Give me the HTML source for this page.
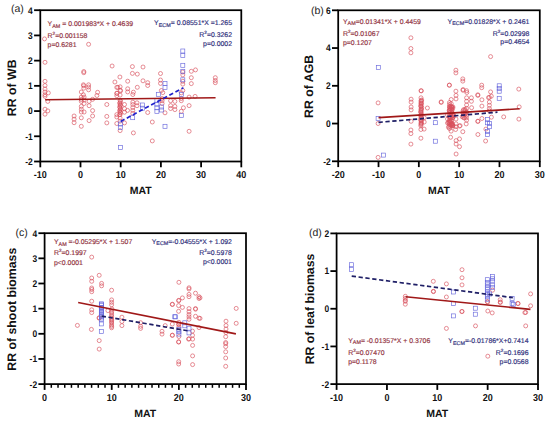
<!DOCTYPE html>
<html><head><meta charset="utf-8"><style>
html,body{margin:0;padding:0;background:#fff;}
svg{display:block;}
text{font-family:"Liberation Sans",sans-serif;text-rendering:geometricPrecision;}
.tkx{font-size:10px;font-weight:bold;fill:#111;}
.tky{font-size:9.6px;font-weight:bold;fill:#111;}
.yl{font-size:12.3px;font-weight:bold;fill:#111;}
.xl{font-size:10.5px;font-weight:bold;fill:#111;}
.pl{font-size:10.5px;fill:#222;}
.ann{font-size:6.9px;stroke-width:0.18px;paint-order:stroke;}
.ax{stroke:#000;stroke-width:1.8;}
.axm{stroke:#000;stroke-width:1.5;}
</style></head><body>
<svg width="550" height="422" viewBox="0 0 550 422">
<rect width="550" height="422" fill="#fff"/>
<g fill="none" stroke="#d9505c" stroke-width="0.65"><circle cx="44.5" cy="38.9" r="2.0"/><circle cx="45" cy="62.3" r="2.0"/><circle cx="45" cy="81.3" r="2.0"/><circle cx="45" cy="85.5" r="2.0"/><circle cx="45" cy="89" r="2.0"/><circle cx="45" cy="92" r="2.0"/><circle cx="45" cy="94.8" r="2.0"/><circle cx="48.3" cy="92.9" r="2.0"/><circle cx="45" cy="96.4" r="2.0"/><circle cx="47.8" cy="101.4" r="2.0"/><circle cx="45" cy="109.2" r="2.0"/><circle cx="47.8" cy="110.9" r="2.0"/><circle cx="45" cy="114.2" r="2.0"/><circle cx="74.1" cy="116" r="2.0"/><circle cx="74.1" cy="119.2" r="2.0"/><circle cx="74.1" cy="122.7" r="2.0"/><circle cx="83.8" cy="72.7" r="2.0"/><circle cx="83.8" cy="71.5" r="2.0"/><circle cx="83.4" cy="84.8" r="2.0"/><circle cx="81.3" cy="92" r="2.0"/><circle cx="83.4" cy="94.8" r="2.0"/><circle cx="81.3" cy="97.1" r="2.0"/><circle cx="84.1" cy="97.1" r="2.0"/><circle cx="81.3" cy="101.4" r="2.0"/><circle cx="84.1" cy="103.5" r="2.0"/><circle cx="81.3" cy="106.4" r="2.0"/><circle cx="81.3" cy="109.2" r="2.0"/><circle cx="81.3" cy="112" r="2.0"/><circle cx="84.1" cy="112" r="2.0"/><circle cx="81.3" cy="117.8" r="2.0"/><circle cx="81.3" cy="126.3" r="2.0"/><circle cx="88.6" cy="44.3" r="2.0"/><circle cx="88.6" cy="84.8" r="2.0"/><circle cx="88.6" cy="89.8" r="2.0"/><circle cx="89.1" cy="101.4" r="2.0"/><circle cx="89.1" cy="105.7" r="2.0"/><circle cx="92.6" cy="110.6" r="2.0"/><circle cx="92.6" cy="116" r="2.0"/><circle cx="89.1" cy="120.6" r="2.0"/><circle cx="92.6" cy="99.3" r="2.0"/><circle cx="97.6" cy="92.3" r="2.0"/><circle cx="96.9" cy="95.5" r="2.0"/><circle cx="106.8" cy="104.5" r="2.0"/><circle cx="106.8" cy="116.4" r="2.0"/><circle cx="106.8" cy="122.9" r="2.0"/><circle cx="112.1" cy="66" r="2.0"/><circle cx="114.9" cy="82" r="2.0"/><circle cx="117.8" cy="87.3" r="2.0"/><circle cx="117" cy="93.3" r="2.0"/><circle cx="119.9" cy="77" r="2.0"/><circle cx="120.6" cy="90.8" r="2.0"/><circle cx="120.1" cy="86.8" r="2.0"/><circle cx="120.1" cy="90.3" r="2.0"/><circle cx="120.1" cy="95.1" r="2.0"/><circle cx="120.1" cy="100.4" r="2.0"/><circle cx="120.1" cy="102.8" r="2.0"/><circle cx="120.1" cy="105.1" r="2.0"/><circle cx="120.1" cy="107.5" r="2.0"/><circle cx="120.1" cy="109.9" r="2.0"/><circle cx="120.1" cy="112.2" r="2.0"/><circle cx="120.1" cy="114.6" r="2.0"/><circle cx="120.1" cy="118.1" r="2.0"/><circle cx="120.1" cy="121.1" r="2.0"/><circle cx="120.1" cy="130.6" r="2.0"/><circle cx="116.8" cy="87.4" r="2.0"/><circle cx="116.8" cy="93.3" r="2.0"/><circle cx="116.8" cy="95.7" r="2.0"/><circle cx="116.8" cy="114.6" r="2.0"/><circle cx="116.8" cy="117" r="2.0"/><circle cx="116.8" cy="123.5" r="2.0"/><circle cx="124.5" cy="104.5" r="2.0"/><circle cx="124.5" cy="108.7" r="2.0"/><circle cx="124.5" cy="112.2" r="2.0"/><circle cx="124.5" cy="122.9" r="2.0"/><circle cx="127.7" cy="81.2" r="2.0"/><circle cx="127.7" cy="88.8" r="2.0"/><circle cx="127.7" cy="91.9" r="2.0"/><circle cx="127.5" cy="110.4" r="2.0"/><circle cx="132.4" cy="66.6" r="2.0"/><circle cx="132.4" cy="73.4" r="2.0"/><circle cx="133.4" cy="92.2" r="2.0"/><circle cx="132.8" cy="94.5" r="2.0"/><circle cx="132.8" cy="102.2" r="2.0"/><circle cx="132.8" cy="104.5" r="2.0"/><circle cx="132.8" cy="107.5" r="2.0"/><circle cx="132.8" cy="110.4" r="2.0"/><circle cx="132.8" cy="113.4" r="2.0"/><circle cx="133.4" cy="132.9" r="2.0"/><circle cx="137.3" cy="74.1" r="2.0"/><circle cx="137.3" cy="87.3" r="2.0"/><circle cx="137" cy="102.8" r="2.0"/><circle cx="137" cy="105.7" r="2.0"/><circle cx="143" cy="67" r="2.0"/><circle cx="143" cy="80.8" r="2.0"/><circle cx="147.7" cy="82.7" r="2.0"/><circle cx="147.7" cy="85.5" r="2.0"/><circle cx="147.7" cy="112.5" r="2.0"/><circle cx="152.3" cy="122" r="2.0"/><circle cx="152.3" cy="140.9" r="2.0"/><circle cx="160.5" cy="73.5" r="2.0"/><circle cx="160.5" cy="80" r="2.0"/><circle cx="160.5" cy="83.4" r="2.0"/><circle cx="161.4" cy="90.5" r="2.0"/><circle cx="162.8" cy="92.6" r="2.0"/><circle cx="162.1" cy="98.5" r="2.0"/><circle cx="162.1" cy="100.7" r="2.0"/><circle cx="162.1" cy="103.5" r="2.0"/><circle cx="165" cy="112.8" r="2.0"/><circle cx="170.6" cy="100.7" r="2.0"/><circle cx="170.6" cy="105.6" r="2.0"/><circle cx="170.6" cy="108.5" r="2.0"/><circle cx="174.9" cy="101.4" r="2.0"/><circle cx="174.9" cy="106.4" r="2.0"/><circle cx="174.9" cy="109.6" r="2.0"/><circle cx="182.8" cy="72" r="2.0"/><circle cx="182.8" cy="74.9" r="2.0"/><circle cx="182.8" cy="81.3" r="2.0"/><circle cx="182.8" cy="84.1" r="2.0"/><circle cx="182.8" cy="90.5" r="2.0"/><circle cx="181.3" cy="92.8" r="2.0"/><circle cx="181.3" cy="98.5" r="2.0"/><circle cx="181.3" cy="100.7" r="2.0"/><circle cx="181.3" cy="111.3" r="2.0"/><circle cx="183.4" cy="107.8" r="2.0"/><circle cx="191.3" cy="71.3" r="2.0"/><circle cx="191.3" cy="77.7" r="2.0"/><circle cx="191.3" cy="83.6" r="2.0"/><circle cx="189.1" cy="97.1" r="2.0"/><circle cx="189.1" cy="105.6" r="2.0"/><circle cx="189.1" cy="131.3" r="2.0"/><circle cx="195.5" cy="69.9" r="2.0"/><circle cx="195.1" cy="96.4" r="2.0"/><circle cx="215.3" cy="77.7" r="2.0"/><circle cx="215.3" cy="80.5" r="2.0"/><circle cx="215.3" cy="82.7" r="2.0"/><circle cx="120.5" cy="101.3" r="2.0"/><circle cx="119.7" cy="103.2" r="2.0"/><circle cx="120.5" cy="105.1" r="2.0"/><circle cx="119.7" cy="107" r="2.0"/><circle cx="120.5" cy="108.9" r="2.0"/><circle cx="119.7" cy="110.8" r="2.0"/><circle cx="120.5" cy="112.7" r="2.0"/><circle cx="119.7" cy="114.6" r="2.0"/><circle cx="83.8" cy="85.8" r="2.0"/><circle cx="83.8" cy="88.2" r="2.0"/><circle cx="88.6" cy="87" r="2.0"/><circle cx="84.1" cy="100" r="2.0"/><circle cx="81.3" cy="99.5" r="2.0"/></g>
<g fill="none" stroke="#6868dc" stroke-width="0.65"><rect x="118.3" y="122" width="4.0" height="4.0"/><rect x="118.3" y="125.6" width="4.0" height="4.0"/><rect x="118.6" y="145.6" width="4.0" height="4.0"/><rect x="130.7" y="115.7" width="4.0" height="4.0"/><rect x="140.4" y="103" width="4.0" height="4.0"/><rect x="140.4" y="106.2" width="4.0" height="4.0"/><rect x="154.9" y="98.7" width="4.0" height="4.0"/><rect x="154.9" y="102.2" width="4.0" height="4.0"/><rect x="154.9" y="105.8" width="4.0" height="4.0"/><rect x="154.9" y="109.3" width="4.0" height="4.0"/><rect x="156.3" y="92.3" width="4.0" height="4.0"/><rect x="163" y="81.4" width="4.0" height="4.0"/><rect x="163" y="85.6" width="4.0" height="4.0"/><rect x="159.4" y="105" width="4.0" height="4.0"/><rect x="159.4" y="108" width="4.0" height="4.0"/><rect x="163" y="124.3" width="4.0" height="4.0"/><rect x="180.8" y="49" width="4.0" height="4.0"/><rect x="180.8" y="53.5" width="4.0" height="4.0"/><rect x="180.8" y="63.3" width="4.0" height="4.0"/><rect x="180.8" y="69.3" width="4.0" height="4.0"/><rect x="180.8" y="77.8" width="4.0" height="4.0"/><rect x="179.3" y="92.3" width="4.0" height="4.0"/><rect x="179.3" y="113.3" width="4.0" height="4.0"/></g>
<line x1="45.12" y1="99.81" x2="215.57" y2="97.69" stroke="#a01818" stroke-width="1.6"/>
<line x1="120.7" y1="121.4" x2="183.41" y2="87.77" stroke="#2222cc" stroke-width="1.7" stroke-dasharray="4.3,2.6"/>
<g fill="none" stroke="#d9505c" stroke-width="0.65"><circle cx="378.1" cy="102.9" r="2.0"/><circle cx="378.1" cy="123.5" r="2.0"/><circle cx="378.1" cy="157.4" r="2.0"/><circle cx="410.9" cy="37.8" r="2.0"/><circle cx="410.9" cy="48.5" r="2.0"/><circle cx="410.9" cy="52.8" r="2.0"/><circle cx="411.1" cy="99.2" r="2.0"/><circle cx="411.1" cy="102.1" r="2.0"/><circle cx="411.1" cy="107" r="2.0"/><circle cx="411.1" cy="109.9" r="2.0"/><circle cx="411.1" cy="121.3" r="2.0"/><circle cx="410.9" cy="130" r="2.0"/><circle cx="410.9" cy="133.6" r="2.0"/><circle cx="410.9" cy="144.1" r="2.0"/><circle cx="421" cy="90.7" r="2.0"/><circle cx="421" cy="97.8" r="2.0"/><circle cx="421" cy="100.6" r="2.0"/><circle cx="421" cy="103.5" r="2.0"/><circle cx="421" cy="106.3" r="2.0"/><circle cx="421" cy="109.2" r="2.0"/><circle cx="421" cy="112" r="2.0"/><circle cx="421" cy="114.9" r="2.0"/><circle cx="421" cy="117.7" r="2.0"/><circle cx="421" cy="120.6" r="2.0"/><circle cx="421" cy="123.4" r="2.0"/><circle cx="420.9" cy="125.9" r="2.0"/><circle cx="420.9" cy="129.5" r="2.0"/><circle cx="420.9" cy="138.2" r="2.0"/><circle cx="424.1" cy="129.1" r="2.0"/><circle cx="424.2" cy="117.7" r="2.0"/><circle cx="424.2" cy="122" r="2.0"/><circle cx="427.4" cy="108" r="2.0"/><circle cx="441.2" cy="102.4" r="2.0"/><circle cx="421.3" cy="90.9" r="2.0"/><circle cx="449.3" cy="85.2" r="2.0"/><circle cx="449.4" cy="85.1" r="2.0"/><circle cx="441.2" cy="101.9" r="2.0"/><circle cx="449.5" cy="102.5" r="2.0"/><circle cx="449.5" cy="104.5" r="2.0"/><circle cx="449.5" cy="106.5" r="2.0"/><circle cx="449.5" cy="108.5" r="2.0"/><circle cx="449.5" cy="110.5" r="2.0"/><circle cx="449.5" cy="112.5" r="2.0"/><circle cx="449.5" cy="114.5" r="2.0"/><circle cx="449.5" cy="116.5" r="2.0"/><circle cx="449.5" cy="118.5" r="2.0"/><circle cx="449.5" cy="120.5" r="2.0"/><circle cx="449.5" cy="122.5" r="2.0"/><circle cx="449.5" cy="124.5" r="2.0"/><circle cx="449.5" cy="126.5" r="2.0"/><circle cx="449.5" cy="128.5" r="2.0"/><circle cx="451.5" cy="113" r="2.0"/><circle cx="451.5" cy="117" r="2.0"/><circle cx="451.5" cy="121" r="2.0"/><circle cx="452" cy="125" r="2.0"/><circle cx="447.5" cy="115" r="2.0"/><circle cx="447.5" cy="119" r="2.0"/><circle cx="447.5" cy="123" r="2.0"/><circle cx="451.2" cy="99.5" r="2.0"/><circle cx="451.2" cy="103.7" r="2.0"/><circle cx="451.2" cy="106.6" r="2.0"/><circle cx="451.1" cy="126.1" r="2.0"/><circle cx="451.1" cy="131.1" r="2.0"/><circle cx="450.6" cy="137.3" r="2.0"/><circle cx="448.4" cy="127.2" r="2.0"/><circle cx="455.9" cy="70.2" r="2.0"/><circle cx="455.9" cy="72.9" r="2.0"/><circle cx="455.9" cy="91.2" r="2.0"/><circle cx="456" cy="95.4" r="2.0"/><circle cx="456" cy="98.9" r="2.0"/><circle cx="456" cy="119" r="2.0"/><circle cx="456" cy="123.8" r="2.0"/><circle cx="456" cy="126.7" r="2.0"/><circle cx="455.6" cy="129.5" r="2.0"/><circle cx="456.1" cy="140.6" r="2.0"/><circle cx="456.1" cy="144" r="2.0"/><circle cx="456.1" cy="154" r="2.0"/><circle cx="459.5" cy="138.9" r="2.0"/><circle cx="459.5" cy="146.7" r="2.0"/><circle cx="459.5" cy="126.1" r="2.0"/><circle cx="460.1" cy="125.6" r="2.0"/><circle cx="462.8" cy="78.9" r="2.0"/><circle cx="462.8" cy="81.1" r="2.0"/><circle cx="463" cy="90.3" r="2.0"/><circle cx="463.1" cy="89.5" r="2.0"/><circle cx="463.1" cy="110.8" r="2.0"/><circle cx="463.1" cy="113.1" r="2.0"/><circle cx="463.1" cy="115.5" r="2.0"/><circle cx="462.8" cy="131.7" r="2.0"/><circle cx="466.6" cy="90.7" r="2.0"/><circle cx="466.6" cy="97.8" r="2.0"/><circle cx="466.6" cy="101.3" r="2.0"/><circle cx="466.6" cy="104.9" r="2.0"/><circle cx="466.6" cy="108.4" r="2.0"/><circle cx="466.6" cy="112" r="2.0"/><circle cx="466.6" cy="115.5" r="2.0"/><circle cx="466.6" cy="120.2" r="2.0"/><circle cx="466.2" cy="123.9" r="2.0"/><circle cx="466.8" cy="92.5" r="2.0"/><circle cx="471.4" cy="97.8" r="2.0"/><circle cx="471.4" cy="101.3" r="2.0"/><circle cx="471.6" cy="107.7" r="2.0"/><circle cx="477.9" cy="95.4" r="2.0"/><circle cx="477.9" cy="121.4" r="2.0"/><circle cx="477.9" cy="134.5" r="2.0"/><circle cx="477.8" cy="94.8" r="2.0"/><circle cx="477.9" cy="121.2" r="2.0"/><circle cx="481.7" cy="85.2" r="2.0"/><circle cx="481.7" cy="87.7" r="2.0"/><circle cx="481.9" cy="99.8" r="2.0"/><circle cx="481.9" cy="106.1" r="2.0"/><circle cx="481.9" cy="118.5" r="2.0"/><circle cx="485.6" cy="141" r="2.0"/><circle cx="485.9" cy="129.1" r="2.0"/><circle cx="490.6" cy="56.6" r="2.0"/><circle cx="490.6" cy="91.9" r="2.0"/><circle cx="491.3" cy="96.2" r="2.0"/><circle cx="488.5" cy="97.6" r="2.0"/><circle cx="489.4" cy="97.4" r="2.0"/><circle cx="489.4" cy="102.1" r="2.0"/><circle cx="489.4" cy="105.3" r="2.0"/><circle cx="489.4" cy="108.5" r="2.0"/><circle cx="489.4" cy="110.9" r="2.0"/><circle cx="491.4" cy="117.2" r="2.0"/><circle cx="503.7" cy="116.9" r="2.0"/><circle cx="518.8" cy="89.1" r="2.0"/><circle cx="519.2" cy="106.9" r="2.0"/><circle cx="518.9" cy="119.1" r="2.0"/><circle cx="449.69" cy="116.88" r="2.0"/><circle cx="450.35" cy="118.08" r="2.0"/><circle cx="451.63" cy="107.31" r="2.0"/><circle cx="448.57" cy="122.75" r="2.0"/><circle cx="449.8" cy="110.69" r="2.0"/><circle cx="453.48" cy="115.41" r="2.0"/><circle cx="452.68" cy="115.53" r="2.0"/><circle cx="451.7" cy="109.01" r="2.0"/><circle cx="451.67" cy="123.36" r="2.0"/><circle cx="451.12" cy="120.83" r="2.0"/><circle cx="451.86" cy="107.28" r="2.0"/><circle cx="452.29" cy="117.82" r="2.0"/><circle cx="450.01" cy="106.62" r="2.0"/><circle cx="452.83" cy="115.45" r="2.0"/><circle cx="452.09" cy="123.58" r="2.0"/><circle cx="452.07" cy="124.42" r="2.0"/><circle cx="450.47" cy="122.02" r="2.0"/><circle cx="450.72" cy="124.71" r="2.0"/><circle cx="452.89" cy="107.95" r="2.0"/><circle cx="449.18" cy="110.34" r="2.0"/><circle cx="453.33" cy="114.72" r="2.0"/><circle cx="451.63" cy="112.02" r="2.0"/><circle cx="451.04" cy="113.72" r="2.0"/><circle cx="450.25" cy="117.7" r="2.0"/><circle cx="451.42" cy="124.08" r="2.0"/><circle cx="451.91" cy="124.58" r="2.0"/><circle cx="452.78" cy="125.82" r="2.0"/><circle cx="451.86" cy="109.26" r="2.0"/><circle cx="452.8" cy="125.29" r="2.0"/><circle cx="453.02" cy="117.38" r="2.0"/><circle cx="452.07" cy="110.22" r="2.0"/><circle cx="452.66" cy="117.47" r="2.0"/><circle cx="449.92" cy="107.27" r="2.0"/><circle cx="452.77" cy="125.8" r="2.0"/><circle cx="448.94" cy="122.01" r="2.0"/><circle cx="450.55" cy="109.02" r="2.0"/><circle cx="449.97" cy="121.38" r="2.0"/><circle cx="452.86" cy="106.88" r="2.0"/><circle cx="451.57" cy="106.9" r="2.0"/><circle cx="452.09" cy="112.62" r="2.0"/><circle cx="466.4" cy="117.83" r="2.0"/><circle cx="464.53" cy="117.99" r="2.0"/><circle cx="463.55" cy="109.69" r="2.0"/><circle cx="465" cy="109.28" r="2.0"/><circle cx="462.99" cy="112.67" r="2.0"/><circle cx="465.05" cy="110.41" r="2.0"/><circle cx="462.21" cy="116.81" r="2.0"/><circle cx="463.57" cy="117.63" r="2.0"/><circle cx="466.48" cy="112.4" r="2.0"/><circle cx="464.3" cy="113.68" r="2.0"/><circle cx="465.22" cy="114.36" r="2.0"/><circle cx="464.8" cy="114.58" r="2.0"/><circle cx="421.73" cy="100" r="2.0"/><circle cx="421.21" cy="101.3" r="2.0"/><circle cx="421.12" cy="102.6" r="2.0"/><circle cx="421.46" cy="103.9" r="2.0"/><circle cx="420.89" cy="105.2" r="2.0"/><circle cx="420.96" cy="106.5" r="2.0"/><circle cx="421.77" cy="107.8" r="2.0"/><circle cx="421.23" cy="109.1" r="2.0"/><circle cx="421.26" cy="110.4" r="2.0"/><circle cx="420.61" cy="111.7" r="2.0"/><circle cx="421.1" cy="113" r="2.0"/><circle cx="421.3" cy="114.3" r="2.0"/><circle cx="420.62" cy="115.6" r="2.0"/><circle cx="421.34" cy="116.9" r="2.0"/><circle cx="421.36" cy="118.2" r="2.0"/><circle cx="420.67" cy="119.5" r="2.0"/><circle cx="421.35" cy="120.8" r="2.0"/><circle cx="421.16" cy="122.1" r="2.0"/><circle cx="421.42" cy="123.4" r="2.0"/><circle cx="421.02" cy="124.7" r="2.0"/></g>
<g fill="none" stroke="#6868dc" stroke-width="0.65"><rect x="376.3" y="65.5" width="4.0" height="4.0"/><rect x="376.1" y="116.4" width="4.0" height="4.0"/><rect x="381.6" y="153.1" width="4.0" height="4.0"/><rect x="433.3" y="120.7" width="4.0" height="4.0"/><rect x="433.3" y="139.2" width="4.0" height="4.0"/><rect x="497.2" y="83.8" width="4.0" height="4.0"/><rect x="497.2" y="86.6" width="4.0" height="4.0"/><rect x="497.2" y="89.2" width="4.0" height="4.0"/><rect x="497.2" y="96.3" width="4.0" height="4.0"/><rect x="485.5" y="117.6" width="4.0" height="4.0"/><rect x="485.5" y="120.8" width="4.0" height="4.0"/><rect x="485.5" y="129.5" width="4.0" height="4.0"/><rect x="485.5" y="132.4" width="4.0" height="4.0"/><rect x="487.4" y="121.6" width="4.0" height="4.0"/><rect x="487.4" y="124.7" width="4.0" height="4.0"/></g>
<line x1="378.52" y1="117.66" x2="519.64" y2="108.81" stroke="#a01818" stroke-width="1.6"/>
<line x1="378.52" y1="122.36" x2="497.46" y2="112.18" stroke="#1f1f66" stroke-width="1.7" stroke-dasharray="4.3,2.6"/>
<g fill="none" stroke="#d9505c" stroke-width="0.65"><circle cx="91.7" cy="257.1" r="2.0"/><circle cx="99.2" cy="275.3" r="2.0"/><circle cx="91.7" cy="278" r="2.0"/><circle cx="91.7" cy="281.3" r="2.0"/><circle cx="91.7" cy="288" r="2.0"/><circle cx="91.7" cy="289.5" r="2.0"/><circle cx="91.7" cy="291.7" r="2.0"/><circle cx="91.7" cy="301.2" r="2.0"/><circle cx="91.7" cy="309.8" r="2.0"/><circle cx="91.7" cy="312.6" r="2.0"/><circle cx="91.4" cy="329.4" r="2.0"/><circle cx="101.6" cy="283.4" r="2.0"/><circle cx="101.6" cy="285.8" r="2.0"/><circle cx="77.4" cy="325.4" r="2.0"/><circle cx="99.2" cy="317.8" r="2.0"/><circle cx="99.2" cy="340.6" r="2.0"/><circle cx="99.2" cy="349.1" r="2.0"/><circle cx="99.1" cy="318.1" r="2.0"/><circle cx="111.6" cy="290.2" r="2.0"/><circle cx="111.6" cy="299.9" r="2.0"/><circle cx="111.6" cy="302.3" r="2.0"/><circle cx="111.6" cy="304.8" r="2.0"/><circle cx="111.6" cy="311.5" r="2.0"/><circle cx="111.6" cy="314.8" r="2.0"/><circle cx="111.6" cy="318.1" r="2.0"/><circle cx="111.6" cy="320.6" r="2.0"/><circle cx="111.6" cy="323.1" r="2.0"/><circle cx="111.6" cy="326.4" r="2.0"/><circle cx="107.9" cy="310.6" r="2.0"/><circle cx="121.9" cy="317.2" r="2.0"/><circle cx="121.9" cy="321.5" r="2.0"/><circle cx="121.9" cy="325.6" r="2.0"/><circle cx="140.6" cy="322.7" r="2.0"/><circle cx="140.6" cy="326.3" r="2.0"/><circle cx="140.6" cy="328.4" r="2.0"/><circle cx="162" cy="331.3" r="2.0"/><circle cx="162" cy="334.1" r="2.0"/><circle cx="165.2" cy="325.6" r="2.0"/><circle cx="172.3" cy="304.2" r="2.0"/><circle cx="172.3" cy="324.1" r="2.0"/><circle cx="172.3" cy="335.2" r="2.0"/><circle cx="172.4" cy="304.5" r="2.0"/><circle cx="172.4" cy="335.3" r="2.0"/><circle cx="178.6" cy="300.7" r="2.0"/><circle cx="178.6" cy="305.6" r="2.0"/><circle cx="178.6" cy="311.3" r="2.0"/><circle cx="178.6" cy="324.1" r="2.0"/><circle cx="178.6" cy="341.9" r="2.0"/><circle cx="178.9" cy="282.3" r="2.0"/><circle cx="178.9" cy="300.3" r="2.0"/><circle cx="178.9" cy="322.3" r="2.0"/><circle cx="178.9" cy="324.6" r="2.0"/><circle cx="178.9" cy="327" r="2.0"/><circle cx="178.9" cy="336.5" r="2.0"/><circle cx="178.7" cy="342" r="2.0"/><circle cx="178.7" cy="361.7" r="2.0"/><circle cx="178.7" cy="364" r="2.0"/><circle cx="182.4" cy="297.9" r="2.0"/><circle cx="182.4" cy="307.4" r="2.0"/><circle cx="189" cy="287.8" r="2.0"/><circle cx="189" cy="289" r="2.0"/><circle cx="189" cy="294.4" r="2.0"/><circle cx="189" cy="296.7" r="2.0"/><circle cx="189" cy="308.6" r="2.0"/><circle cx="189" cy="311.6" r="2.0"/><circle cx="189" cy="314.5" r="2.0"/><circle cx="189" cy="316.9" r="2.0"/><circle cx="189" cy="319.3" r="2.0"/><circle cx="189" cy="338.8" r="2.0"/><circle cx="188.6" cy="339.1" r="2.0"/><circle cx="195.5" cy="293.2" r="2.0"/><circle cx="195.5" cy="308.6" r="2.0"/><circle cx="195.5" cy="309.2" r="2.0"/><circle cx="195.5" cy="316.3" r="2.0"/><circle cx="199" cy="296.7" r="2.0"/><circle cx="199" cy="298.5" r="2.0"/><circle cx="199" cy="318.1" r="2.0"/><circle cx="199" cy="327.6" r="2.0"/><circle cx="192.5" cy="331.1" r="2.0"/><circle cx="192.5" cy="335.3" r="2.0"/><circle cx="192.6" cy="339.1" r="2.0"/><circle cx="192.6" cy="345.4" r="2.0"/><circle cx="192.6" cy="355.9" r="2.0"/><circle cx="192.6" cy="364.6" r="2.0"/><circle cx="200" cy="297.8" r="2.0"/><circle cx="200" cy="318.4" r="2.0"/><circle cx="225.7" cy="336.7" r="2.0"/><circle cx="225.7" cy="342.5" r="2.0"/><circle cx="225.7" cy="343.7" r="2.0"/><circle cx="225.7" cy="346.6" r="2.0"/><circle cx="225.7" cy="351.8" r="2.0"/><circle cx="225.7" cy="358" r="2.0"/><circle cx="225.7" cy="366.3" r="2.0"/><circle cx="226" cy="321.2" r="2.0"/><circle cx="226" cy="325.5" r="2.0"/><circle cx="226" cy="329" r="2.0"/><circle cx="226" cy="332.6" r="2.0"/><circle cx="236.2" cy="308.4" r="2.0"/><circle cx="236.2" cy="323.3" r="2.0"/><circle cx="111.6" cy="313" r="2.0"/><circle cx="111.6" cy="316.5" r="2.0"/><circle cx="111.6" cy="319.5" r="2.0"/><circle cx="111.6" cy="322" r="2.0"/><circle cx="111.6" cy="325" r="2.0"/><circle cx="111.6" cy="327.8" r="2.0"/><circle cx="111.9" cy="309" r="2.0"/></g>
<g fill="none" stroke="#6868dc" stroke-width="0.65"><rect x="99.6" y="302.1" width="4.0" height="4.0"/><rect x="99.6" y="305.6" width="4.0" height="4.0"/><rect x="99.6" y="309.2" width="4.0" height="4.0"/><rect x="99.3" y="302" width="4.0" height="4.0"/><rect x="99.3" y="305.3" width="4.0" height="4.0"/><rect x="99.3" y="308.6" width="4.0" height="4.0"/><rect x="99.3" y="311.9" width="4.0" height="4.0"/><rect x="99.3" y="314.4" width="4.0" height="4.0"/><rect x="99.3" y="317.8" width="4.0" height="4.0"/><rect x="99.3" y="321.9" width="4.0" height="4.0"/><rect x="99.3" y="329.4" width="4.0" height="4.0"/><rect x="172.8" y="314.7" width="4.0" height="4.0"/><rect x="173.3" y="314.9" width="4.0" height="4.0"/><rect x="176.9" y="327.4" width="4.0" height="4.0"/><rect x="176.9" y="329.7" width="4.0" height="4.0"/><rect x="176.9" y="332.1" width="4.0" height="4.0"/><rect x="182.8" y="320.8" width="4.0" height="4.0"/><rect x="182.8" y="323.8" width="4.0" height="4.0"/><rect x="187" y="326.2" width="4.0" height="4.0"/><rect x="187" y="330.9" width="4.0" height="4.0"/><rect x="99.5" y="303.5" width="4.0" height="4.0"/><rect x="99.5" y="307" width="4.0" height="4.0"/><rect x="99.5" y="310.5" width="4.0" height="4.0"/><rect x="99.5" y="313" width="4.0" height="4.0"/><rect x="99.5" y="316" width="4.0" height="4.0"/></g>
<line x1="78.17" y1="302.56" x2="235.93" y2="333.85" stroke="#a01818" stroke-width="1.6"/>
<line x1="101.66" y1="316.07" x2="188.94" y2="330.97" stroke="#1f1f66" stroke-width="1.7" stroke-dasharray="4.3,2.6"/>
<g fill="none" stroke="#d9505c" stroke-width="0.65"><circle cx="405.3" cy="296.3" r="2.0"/><circle cx="405.3" cy="298.4" r="2.0"/><circle cx="405.3" cy="300.4" r="2.0"/><circle cx="405.3" cy="301.3" r="2.0"/><circle cx="405.3" cy="304.2" r="2.0"/><circle cx="433.3" cy="281.3" r="2.0"/><circle cx="433.3" cy="291.3" r="2.0"/><circle cx="433.5" cy="291.6" r="2.0"/><circle cx="446.4" cy="283.9" r="2.0"/><circle cx="446.4" cy="297" r="2.0"/><circle cx="446.4" cy="328.4" r="2.0"/><circle cx="462" cy="269.7" r="2.0"/><circle cx="462" cy="277.8" r="2.0"/><circle cx="462" cy="284.9" r="2.0"/><circle cx="462" cy="311.4" r="2.0"/><circle cx="461.9" cy="311.6" r="2.0"/><circle cx="475.5" cy="325.9" r="2.0"/><circle cx="487.8" cy="311" r="2.0"/><circle cx="492.2" cy="312.9" r="2.0"/><circle cx="487.8" cy="356.2" r="2.0"/><circle cx="492.6" cy="290.2" r="2.0"/><circle cx="487.3" cy="301.6" r="2.0"/><circle cx="487.7" cy="302" r="2.0"/><circle cx="500.2" cy="299.7" r="2.0"/><circle cx="500.2" cy="302.5" r="2.0"/><circle cx="500.4" cy="302" r="2.0"/><circle cx="517.8" cy="303.4" r="2.0"/><circle cx="518.1" cy="303.6" r="2.0"/><circle cx="525.7" cy="312.4" r="2.0"/><circle cx="525.7" cy="325.9" r="2.0"/><circle cx="524.9" cy="312.6" r="2.0"/><circle cx="530.6" cy="293.9" r="2.0"/><circle cx="530.6" cy="305.8" r="2.0"/></g>
<g fill="none" stroke="#6868dc" stroke-width="0.65"><rect x="349.6" y="262.7" width="4.0" height="4.0"/><rect x="349.6" y="267.5" width="4.0" height="4.0"/><rect x="451.5" y="290" width="4.0" height="4.0"/><rect x="451.5" y="301.6" width="4.0" height="4.0"/><rect x="451.5" y="313.9" width="4.0" height="4.0"/><rect x="473.3" y="306.2" width="4.0" height="4.0"/><rect x="473.3" y="312.2" width="4.0" height="4.0"/><rect x="485.3" y="277.7" width="4.0" height="4.0"/><rect x="485.3" y="280.6" width="4.0" height="4.0"/><rect x="485.3" y="282.9" width="4.0" height="4.0"/><rect x="485.3" y="285.3" width="4.0" height="4.0"/><rect x="485.3" y="287.7" width="4.0" height="4.0"/><rect x="485.3" y="290.1" width="4.0" height="4.0"/><rect x="485.3" y="292.4" width="4.0" height="4.0"/><rect x="485.3" y="294.8" width="4.0" height="4.0"/><rect x="485.3" y="297.2" width="4.0" height="4.0"/><rect x="490.6" y="274.4" width="4.0" height="4.0"/><rect x="490.6" y="276.8" width="4.0" height="4.0"/><rect x="490.6" y="279.1" width="4.0" height="4.0"/><rect x="490.6" y="282.9" width="4.0" height="4.0"/><rect x="490.6" y="285.3" width="4.0" height="4.0"/><rect x="487.7" y="292" width="4.0" height="4.0"/><rect x="510.1" y="296.4" width="4.0" height="4.0"/><rect x="510.1" y="301.4" width="4.0" height="4.0"/><rect x="511.3" y="302.5" width="4.0" height="4.0"/></g>
<line x1="405.58" y1="296.68" x2="530.45" y2="309.36" stroke="#a01818" stroke-width="1.6"/>
<line x1="351.71" y1="276.11" x2="512.83" y2="297.64" stroke="#1f1f66" stroke-width="1.7" stroke-dasharray="4.3,2.6"/>
<line x1="40.3" y1="161.5" x2="40.3" y2="167.3" class="ax"/>
<text transform="translate(40.3,177.8) scale(0.9,1)" text-anchor="middle" class="tkx">-10</text>
<line x1="80.5" y1="161.5" x2="80.5" y2="167.3" class="ax"/>
<text transform="translate(80.5,177.8) scale(0.9,1)" text-anchor="middle" class="tkx">0</text>
<line x1="120.7" y1="161.5" x2="120.7" y2="167.3" class="ax"/>
<text transform="translate(120.7,177.8) scale(0.9,1)" text-anchor="middle" class="tkx">10</text>
<line x1="160.9" y1="161.5" x2="160.9" y2="167.3" class="ax"/>
<text transform="translate(160.9,177.8) scale(0.9,1)" text-anchor="middle" class="tkx">20</text>
<line x1="201.1" y1="161.5" x2="201.1" y2="167.3" class="ax"/>
<text transform="translate(201.1,177.8) scale(0.9,1)" text-anchor="middle" class="tkx">30</text>
<line x1="241.3" y1="161.5" x2="241.3" y2="167.3" class="ax"/>
<text transform="translate(241.3,177.8) scale(0.9,1)" text-anchor="middle" class="tkx">40</text>
<line x1="34.1" y1="10.2" x2="40.3" y2="10.2" class="ax"/>
<text transform="translate(32.8,13.6) scale(0.88,1)" text-anchor="end" class="tky">4</text>
<line x1="34.1" y1="35.42" x2="40.3" y2="35.42" class="ax"/>
<text transform="translate(32.8,38.82) scale(0.88,1)" text-anchor="end" class="tky">3</text>
<line x1="34.1" y1="60.63" x2="40.3" y2="60.63" class="ax"/>
<text transform="translate(32.8,64.03) scale(0.88,1)" text-anchor="end" class="tky">2</text>
<line x1="34.1" y1="85.85" x2="40.3" y2="85.85" class="ax"/>
<text transform="translate(32.8,89.25) scale(0.88,1)" text-anchor="end" class="tky">1</text>
<line x1="34.1" y1="111.07" x2="40.3" y2="111.07" class="ax"/>
<text transform="translate(32.8,114.47) scale(0.88,1)" text-anchor="end" class="tky">0</text>
<line x1="34.1" y1="136.28" x2="40.3" y2="136.28" class="ax"/>
<text transform="translate(32.8,139.68) scale(0.88,1)" text-anchor="end" class="tky">-1</text>
<line x1="34.1" y1="161.5" x2="40.3" y2="161.5" class="ax"/>
<text transform="translate(32.8,164.9) scale(0.88,1)" text-anchor="end" class="tky">-2</text>
<rect x="40.3" y="10.2" width="201" height="151.3" fill="none" stroke="#000" stroke-width="1.75"/>
<text x="11" y="12.4" class="pl">(a)</text>
<text transform="translate(15.6,87.8) rotate(-90)" text-anchor="middle" class="yl">RR of WB</text>
<text x="140.7" y="194.2" text-anchor="middle" class="xl">MAT</text>
<text x="47.6" y="25.9" fill="#943846" stroke="#943846" text-anchor="start" class="ann">Y<tspan dy="1.6" font-size="5.4">AM</tspan><tspan dy="-1.6"> = 0.001983*X + 0.4639</tspan></text>
<text x="47.6" y="38" fill="#943846" stroke="#943846" text-anchor="start" class="ann">R<tspan dy="-3" font-size="4.6">2</tspan><tspan dy="3">=0.001158</tspan></text>
<text x="47.6" y="46.6" fill="#943846" stroke="#943846" text-anchor="start" class="ann">p=0.6281</text>
<text x="232" y="24.9" fill="#34347e" stroke="#34347e" text-anchor="end" class="ann">Y<tspan dy="1.6" font-size="5.4">ECM</tspan><tspan dy="-1.6">= 0.08551*X =1.265</tspan></text>
<text x="232" y="37.3" fill="#34347e" stroke="#34347e" text-anchor="end" class="ann">R<tspan dy="-3" font-size="4.6">2</tspan><tspan dy="3">=0.3262</tspan></text>
<text x="232" y="45.7" fill="#34347e" stroke="#34347e" text-anchor="end" class="ann">p=0.0002</text>
<line x1="338.2" y1="161.3" x2="338.2" y2="167.1" class="ax"/>
<text transform="translate(338.2,177.6) scale(0.9,1)" text-anchor="middle" class="tkx">-20</text>
<line x1="378.52" y1="161.3" x2="378.52" y2="167.1" class="ax"/>
<text transform="translate(378.52,177.6) scale(0.9,1)" text-anchor="middle" class="tkx">-10</text>
<line x1="418.84" y1="161.3" x2="418.84" y2="167.1" class="ax"/>
<text transform="translate(418.84,177.6) scale(0.9,1)" text-anchor="middle" class="tkx">0</text>
<line x1="459.16" y1="161.3" x2="459.16" y2="167.1" class="ax"/>
<text transform="translate(459.16,177.6) scale(0.9,1)" text-anchor="middle" class="tkx">10</text>
<line x1="499.48" y1="161.3" x2="499.48" y2="167.1" class="ax"/>
<text transform="translate(499.48,177.6) scale(0.9,1)" text-anchor="middle" class="tkx">20</text>
<line x1="539.8" y1="161.3" x2="539.8" y2="167.1" class="ax"/>
<text transform="translate(539.8,177.6) scale(0.9,1)" text-anchor="middle" class="tkx">30</text>
<line x1="332" y1="10.3" x2="338.2" y2="10.3" class="ax"/>
<text transform="translate(330.7,13.7) scale(0.88,1)" text-anchor="end" class="tky">6</text>
<line x1="332" y1="48.05" x2="338.2" y2="48.05" class="ax"/>
<text transform="translate(330.7,51.45) scale(0.88,1)" text-anchor="end" class="tky">4</text>
<line x1="332" y1="85.8" x2="338.2" y2="85.8" class="ax"/>
<text transform="translate(330.7,89.2) scale(0.88,1)" text-anchor="end" class="tky">2</text>
<line x1="332" y1="123.55" x2="338.2" y2="123.55" class="ax"/>
<text transform="translate(330.7,126.95) scale(0.88,1)" text-anchor="end" class="tky">0</text>
<line x1="332" y1="161.3" x2="338.2" y2="161.3" class="ax"/>
<text transform="translate(330.7,164.7) scale(0.88,1)" text-anchor="end" class="tky">-2</text>
<rect x="338.2" y="10.3" width="201.6" height="151" fill="none" stroke="#000" stroke-width="1.75"/>
<text x="311" y="13.6" class="pl">(b)</text>
<text transform="translate(313.3,86.4) rotate(-90)" text-anchor="middle" class="yl">RR of AGB</text>
<text x="439" y="194.2" text-anchor="middle" class="xl">MAT</text>
<text x="343" y="23.8" fill="#943846" stroke="#943846" text-anchor="start" class="ann">Y<tspan dy="1.6" font-size="5.4">AM</tspan><tspan dy="-1.6">=0.01341*X + 0.4459</tspan></text>
<text x="343" y="35.6" fill="#943846" stroke="#943846" text-anchor="start" class="ann">R<tspan dy="-3" font-size="4.6">2</tspan><tspan dy="3">=0.01067</tspan></text>
<text x="343" y="44.6" fill="#943846" stroke="#943846" text-anchor="start" class="ann">p=0.1207</text>
<text x="529.3" y="23.7" fill="#34347e" stroke="#34347e" text-anchor="end" class="ann">Y<tspan dy="1.6" font-size="5.4">ECM</tspan><tspan dy="-1.6">=0.01828*X + 0.2461</tspan></text>
<text x="529.3" y="35.8" fill="#34347e" stroke="#34347e" text-anchor="end" class="ann">R<tspan dy="-3" font-size="4.6">2</tspan><tspan dy="3">=0.02998</tspan></text>
<text x="529.3" y="43.8" fill="#34347e" stroke="#34347e" text-anchor="end" class="ann">p=0.4654</text>
<line x1="44.6" y1="384.1" x2="44.6" y2="389.9" class="ax"/>
<text transform="translate(44.6,400.9) scale(0.9,1)" text-anchor="middle" class="tkx">0</text>
<line x1="111.73" y1="384.1" x2="111.73" y2="389.9" class="ax"/>
<text transform="translate(111.73,400.9) scale(0.9,1)" text-anchor="middle" class="tkx">10</text>
<line x1="178.87" y1="384.1" x2="178.87" y2="389.9" class="ax"/>
<text transform="translate(178.87,400.9) scale(0.9,1)" text-anchor="middle" class="tkx">20</text>
<line x1="246" y1="384.1" x2="246" y2="389.9" class="ax"/>
<text transform="translate(246,400.9) scale(0.9,1)" text-anchor="middle" class="tkx">30</text>
<line x1="51.31" y1="384.1" x2="51.31" y2="387.8" class="axm"/>
<line x1="58.03" y1="384.1" x2="58.03" y2="387.8" class="axm"/>
<line x1="64.74" y1="384.1" x2="64.74" y2="387.8" class="axm"/>
<line x1="71.45" y1="384.1" x2="71.45" y2="387.8" class="axm"/>
<line x1="78.17" y1="384.1" x2="78.17" y2="387.8" class="axm"/>
<line x1="84.88" y1="384.1" x2="84.88" y2="387.8" class="axm"/>
<line x1="91.59" y1="384.1" x2="91.59" y2="387.8" class="axm"/>
<line x1="98.31" y1="384.1" x2="98.31" y2="387.8" class="axm"/>
<line x1="105.02" y1="384.1" x2="105.02" y2="387.8" class="axm"/>
<line x1="118.45" y1="384.1" x2="118.45" y2="387.8" class="axm"/>
<line x1="125.16" y1="384.1" x2="125.16" y2="387.8" class="axm"/>
<line x1="131.87" y1="384.1" x2="131.87" y2="387.8" class="axm"/>
<line x1="138.59" y1="384.1" x2="138.59" y2="387.8" class="axm"/>
<line x1="145.3" y1="384.1" x2="145.3" y2="387.8" class="axm"/>
<line x1="152.01" y1="384.1" x2="152.01" y2="387.8" class="axm"/>
<line x1="158.73" y1="384.1" x2="158.73" y2="387.8" class="axm"/>
<line x1="165.44" y1="384.1" x2="165.44" y2="387.8" class="axm"/>
<line x1="172.15" y1="384.1" x2="172.15" y2="387.8" class="axm"/>
<line x1="185.58" y1="384.1" x2="185.58" y2="387.8" class="axm"/>
<line x1="192.29" y1="384.1" x2="192.29" y2="387.8" class="axm"/>
<line x1="199.01" y1="384.1" x2="199.01" y2="387.8" class="axm"/>
<line x1="205.72" y1="384.1" x2="205.72" y2="387.8" class="axm"/>
<line x1="212.43" y1="384.1" x2="212.43" y2="387.8" class="axm"/>
<line x1="219.15" y1="384.1" x2="219.15" y2="387.8" class="axm"/>
<line x1="225.86" y1="384.1" x2="225.86" y2="387.8" class="axm"/>
<line x1="232.57" y1="384.1" x2="232.57" y2="387.8" class="axm"/>
<line x1="239.29" y1="384.1" x2="239.29" y2="387.8" class="axm"/>
<line x1="38.4" y1="233.2" x2="44.6" y2="233.2" class="ax"/>
<text transform="translate(37.1,236.6) scale(0.88,1)" text-anchor="end" class="tky">4</text>
<line x1="38.4" y1="258.35" x2="44.6" y2="258.35" class="ax"/>
<text transform="translate(37.1,261.75) scale(0.88,1)" text-anchor="end" class="tky">3</text>
<line x1="38.4" y1="283.5" x2="44.6" y2="283.5" class="ax"/>
<text transform="translate(37.1,286.9) scale(0.88,1)" text-anchor="end" class="tky">2</text>
<line x1="38.4" y1="308.65" x2="44.6" y2="308.65" class="ax"/>
<text transform="translate(37.1,312.05) scale(0.88,1)" text-anchor="end" class="tky">1</text>
<line x1="38.4" y1="333.8" x2="44.6" y2="333.8" class="ax"/>
<text transform="translate(37.1,337.2) scale(0.88,1)" text-anchor="end" class="tky">0</text>
<line x1="38.4" y1="358.95" x2="44.6" y2="358.95" class="ax"/>
<text transform="translate(37.1,362.35) scale(0.88,1)" text-anchor="end" class="tky">-1</text>
<line x1="38.4" y1="384.1" x2="44.6" y2="384.1" class="ax"/>
<text transform="translate(37.1,387.5) scale(0.88,1)" text-anchor="end" class="tky">-2</text>
<rect x="44.6" y="233.2" width="201.4" height="150.9" fill="none" stroke="#000" stroke-width="1.75"/>
<text x="15.5" y="235.7" class="pl">(c)</text>
<text transform="translate(15.6,309.2) rotate(-90)" text-anchor="middle" class="yl">RR of shoot biomass</text>
<text x="145.3" y="416.5" text-anchor="middle" class="xl">MAT</text>
<text x="54" y="244" fill="#943846" stroke="#943846" text-anchor="start" class="ann">Y<tspan dy="1.6" font-size="5.4">AM</tspan><tspan dy="-1.6"> =-0.05295*X + 1.507</tspan></text>
<text x="54" y="254.9" fill="#943846" stroke="#943846" text-anchor="start" class="ann">R<tspan dy="-3" font-size="4.6">2</tspan><tspan dy="3">=0.1997</tspan></text>
<text x="54" y="264.7" fill="#943846" stroke="#943846" text-anchor="start" class="ann">p<0.0001</text>
<text x="231.9" y="243.5" fill="#34347e" stroke="#34347e" text-anchor="end" class="ann">Y<tspan dy="1.6" font-size="5.4">ECM</tspan><tspan dy="-1.6">=-0.04555*X + 1.092</tspan></text>
<text x="231.9" y="254.9" fill="#34347e" stroke="#34347e" text-anchor="end" class="ann">R<tspan dy="-3" font-size="4.6">2</tspan><tspan dy="3">=0.5978</tspan></text>
<text x="231.9" y="264.2" fill="#34347e" stroke="#34347e" text-anchor="end" class="ann">p<0.0001</text>
<line x1="336.6" y1="384.1" x2="336.6" y2="389.9" class="ax"/>
<text transform="translate(336.6,400.9) scale(0.9,1)" text-anchor="middle" class="tkx">-10</text>
<line x1="386.95" y1="384.1" x2="386.95" y2="389.9" class="ax"/>
<text transform="translate(386.95,400.9) scale(0.9,1)" text-anchor="middle" class="tkx">0</text>
<line x1="437.3" y1="384.1" x2="437.3" y2="389.9" class="ax"/>
<text transform="translate(437.3,400.9) scale(0.9,1)" text-anchor="middle" class="tkx">10</text>
<line x1="487.65" y1="384.1" x2="487.65" y2="389.9" class="ax"/>
<text transform="translate(487.65,400.9) scale(0.9,1)" text-anchor="middle" class="tkx">20</text>
<line x1="538" y1="384.1" x2="538" y2="389.9" class="ax"/>
<text transform="translate(538,400.9) scale(0.9,1)" text-anchor="middle" class="tkx">30</text>
<line x1="330.4" y1="233.4" x2="336.6" y2="233.4" class="ax"/>
<text transform="translate(329.1,236.8) scale(0.88,1)" text-anchor="end" class="tky">2</text>
<line x1="330.4" y1="271.08" x2="336.6" y2="271.08" class="ax"/>
<text transform="translate(329.1,274.48) scale(0.88,1)" text-anchor="end" class="tky">1</text>
<line x1="330.4" y1="308.75" x2="336.6" y2="308.75" class="ax"/>
<text transform="translate(329.1,312.15) scale(0.88,1)" text-anchor="end" class="tky">0</text>
<line x1="330.4" y1="346.43" x2="336.6" y2="346.43" class="ax"/>
<text transform="translate(329.1,349.82) scale(0.88,1)" text-anchor="end" class="tky">-1</text>
<line x1="330.4" y1="384.1" x2="336.6" y2="384.1" class="ax"/>
<text transform="translate(329.1,387.5) scale(0.88,1)" text-anchor="end" class="tky">-2</text>
<rect x="336.6" y="233.4" width="201.4" height="150.7" fill="none" stroke="#000" stroke-width="1.75"/>
<text x="309" y="236" class="pl">(d)</text>
<text transform="translate(313.6,309) rotate(-90)" text-anchor="middle" class="yl">RR of leaf biomass</text>
<text x="437.3" y="416.5" text-anchor="middle" class="xl">MAT</text>
<text x="348.2" y="342.7" fill="#943846" stroke="#943846" text-anchor="start" class="ann">Y<tspan dy="1.6" font-size="5.4">AM</tspan><tspan dy="-1.6">= -0.01357*X + 0.3706</tspan></text>
<text x="348.2" y="354.5" fill="#943846" stroke="#943846" text-anchor="start" class="ann">R<tspan dy="-3" font-size="4.6">2</tspan><tspan dy="3">=0.07470</tspan></text>
<text x="348.2" y="364.2" fill="#943846" stroke="#943846" text-anchor="start" class="ann">p=0.1178</text>
<text x="528.5" y="343" fill="#34347e" stroke="#34347e" text-anchor="end" class="ann">Y<tspan dy="1.6" font-size="5.4">ECM</tspan><tspan dy="-1.6">=-0.01786*X+0.7414</tspan></text>
<text x="528.5" y="354.5" fill="#34347e" stroke="#34347e" text-anchor="end" class="ann">R<tspan dy="-3" font-size="4.6">2</tspan><tspan dy="3">=0.1696</tspan></text>
<text x="528.5" y="364.2" fill="#34347e" stroke="#34347e" text-anchor="end" class="ann">p=0.0568</text>
</svg>
</body></html>
